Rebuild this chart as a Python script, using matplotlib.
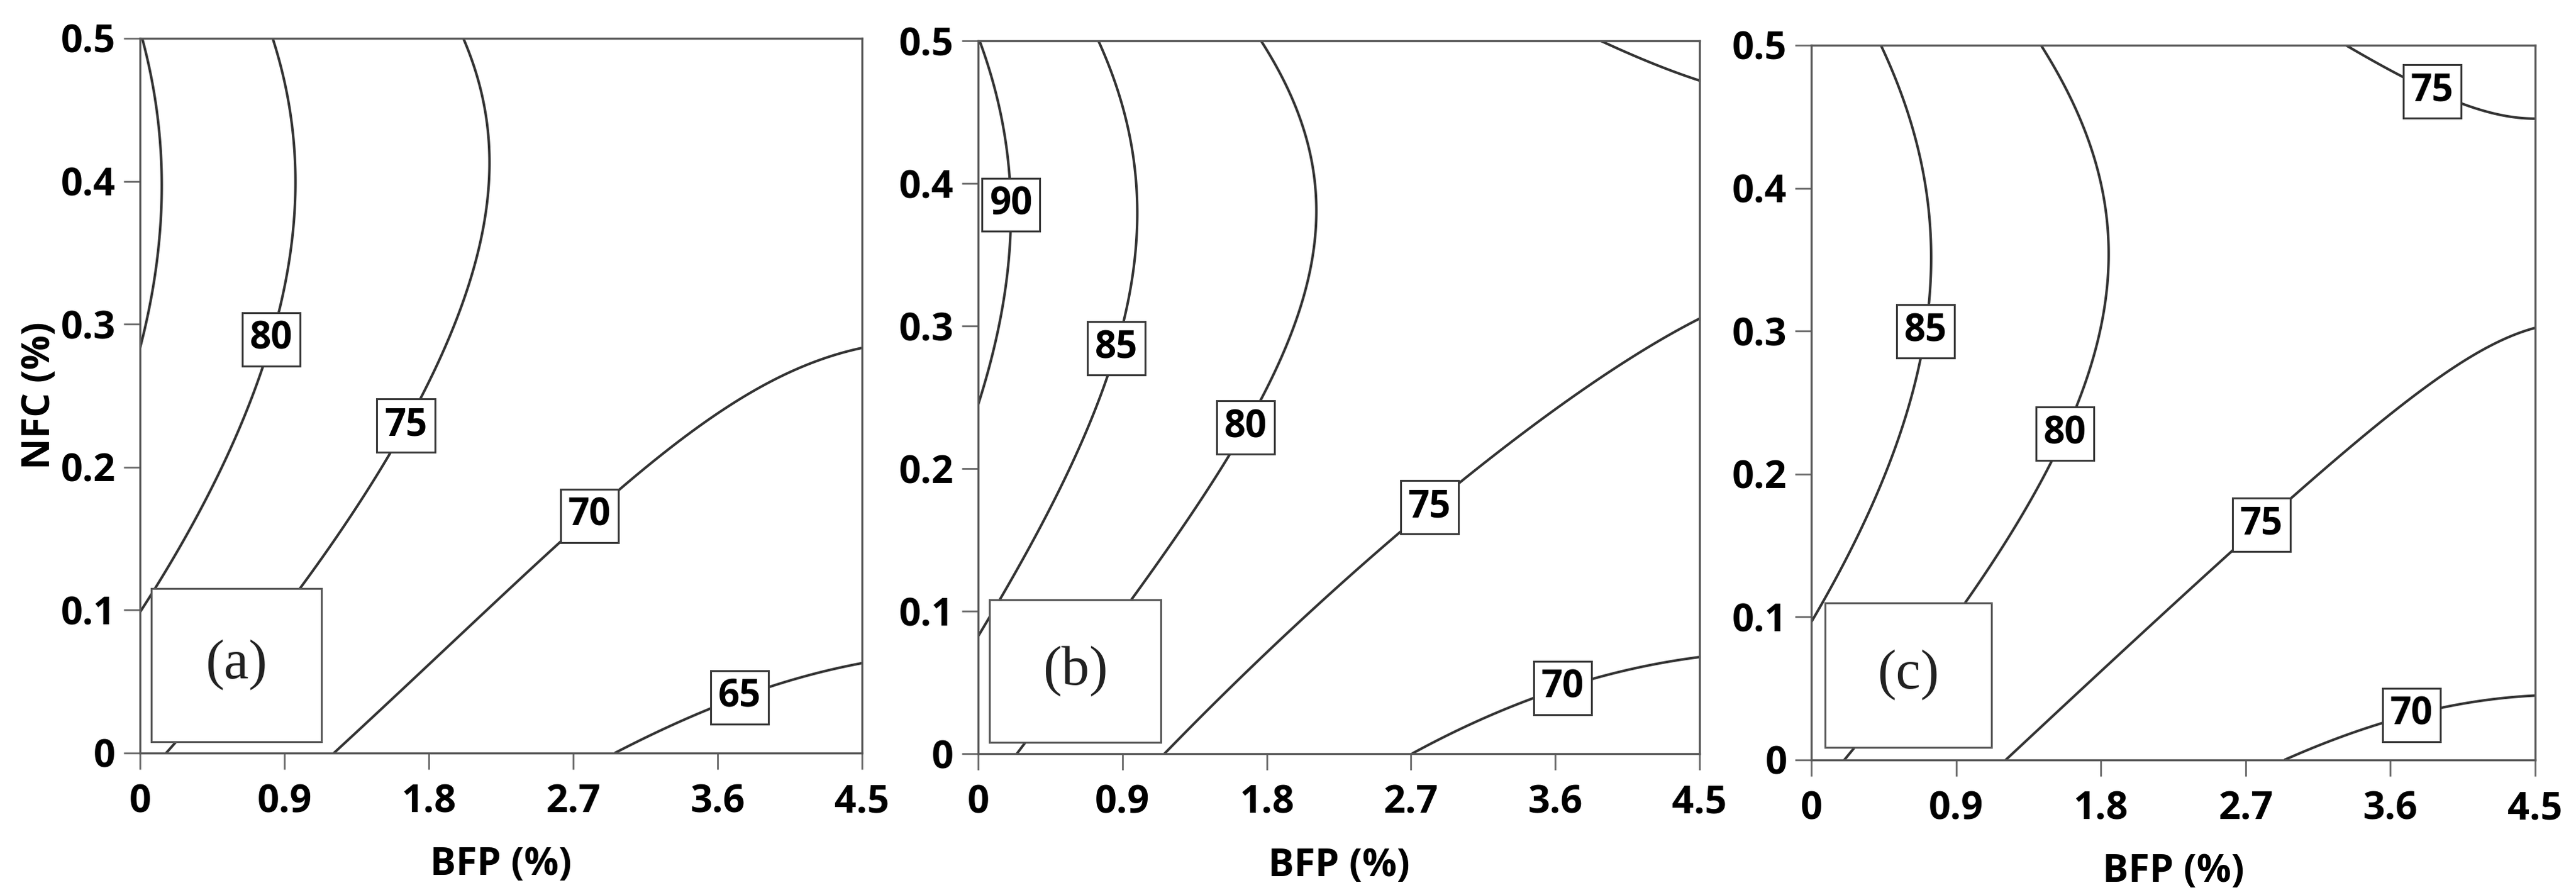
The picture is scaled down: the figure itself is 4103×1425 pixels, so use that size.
import numpy as np
import matplotlib
matplotlib.use("Agg")
import matplotlib.pyplot as plt
from matplotlib.patches import Rectangle

plt.rcParams['font.family'] = ['Open Sans', 'DejaVu Sans']
plt.rcParams['font.weight'] = 'bold'

# ---- data: response-surface model coefficients ----
# terms: 1, x, y, x*y, x^2, y^2, x^2*y, x*y^2, x^3, y^3   (x = BFP %, y = NFC %)
coef_a = [75.936, -5.881, 45.233, -6.014, 0.845, -37.410, 0.454, 7.456, -0.036, -32.836]
coef_b = [81.605, -6.909, 43.467, -3.855, 1.120, -22.528, 0.116, 4.904, -0.056, -61.095]
coef_c = [81.237, -6.221, 43.671, -3.653, 0.919, -45.368, 0.175, 5.006, -0.035, -31.815]

levels_a = [65, 70, 75, 80, 85]
levels_b = [70, 75, 80, 85, 90]
levels_c = [70, 75, 80, 85]

panel_tags = ['(a)', '(b)', '(c)']
x_ticks = [0, 0.9, 1.8, 2.7, 3.6, 4.5]
x_ticklabels = ['0', '0.9', '1.8', '2.7', '3.6', '4.5']
y_ticks = [0, 0.1, 0.2, 0.3, 0.4, 0.5]
y_ticklabels = ['0', '0.1', '0.2', '0.3', '0.4', '0.5']
x_label = 'BFP (%)'
y_label = 'NFC (%)'

# ---- layout / style ----
label_pos_a = [(0.80, 0.29), (1.64, 0.23), (2.77, 0.17), (3.70, 0.05)]
label_pos_b = [(0.20, 0.385), (0.84, 0.285), (1.65, 0.23), (2.80, 0.175), (3.62, 0.055)]
label_pos_c = [(0.69, 0.30), (1.54, 0.23), (2.77, 0.168), (3.88, 0.473), (3.71, 0.04)]

axes_pos = [[0.05435, 0.15860, 0.28028, 0.79860],
            [0.37972, 0.15789, 0.28004, 0.79649],
            [0.70315, 0.15088, 0.28101, 0.79860]]
tag_box = [(0.07, 0.008, 1.06, 0.107), (0.07, 0.008, 1.07, 0.100), (0.087, 0.009, 1.033, 0.101)]

LINE = '#333333'
SPINE = '#585858'


def model(coef, x, y):
    terms = [np.ones_like(x), x, y, x * y, x ** 2, y ** 2,
             x ** 2 * y, x * y ** 2, x ** 3, y ** 3]
    return sum(c * t for c, t in zip(coef, terms))


fig = plt.figure(figsize=(41.03, 14.25), dpi=100)
gx = np.linspace(0, 4.5, 500)
gy = np.linspace(0, 0.5, 500)
GX, GY = np.meshgrid(gx, gy)

panels = [(coef_a, levels_a, label_pos_a), (coef_b, levels_b, label_pos_b),
          (coef_c, levels_c, label_pos_c)]

for i, (coef, levels, lpos) in enumerate(panels):
    ax = fig.add_axes(axes_pos[i])
    Z = model(coef, GX, GY)
    cs = ax.contour(GX, GY, Z, levels=levels, colors=LINE, linewidths=2.9)
    texts = ax.clabel(cs, manual=lpos, inline=False, fontsize=43, fmt='%d')
    for t in texts:
        t.set_rotation(0)
        t.set_fontweight('bold')
        t.set_color('black')
        t.set_zorder(6)
        t.set_bbox(dict(boxstyle='square,pad=0.2', facecolor='white',
                        edgecolor='#3a3a3a', linewidth=2.2))

    bx, by, bw, bh = tag_box[i]
    ax.add_patch(Rectangle((bx, by), bw, bh, facecolor='white', edgecolor=SPINE,
                           linewidth=2.2, zorder=5))
    ax.text(bx + bw / 2, by + bh / 2, panel_tags[i], ha='center', va='center',
            fontsize=64, fontweight='normal', family=['Liberation Serif'],
            color='#222222', zorder=6)

    ax.set_xlim(0, 4.5)
    ax.set_ylim(0, 0.5)
    ax.set_xticks(x_ticks, x_ticklabels)
    ax.set_yticks(y_ticks, y_ticklabels)
    ax.tick_params(axis='both', direction='out', length=19, width=2, color='#6a6a6a',
                   labelsize=44, labelcolor='black')
    ax.tick_params(axis='x', pad=16)
    ax.tick_params(axis='y', pad=9)
    for sp in ax.spines.values():
        sp.set_linewidth(2.4)
        sp.set_color(SPINE)
    ax.set_xlabel(x_label, fontsize=44, fontweight='bold', labelpad=28)
    if i == 0:
        ax.set_ylabel(y_label, fontsize=44, fontweight='bold', labelpad=2)

fig.savefig('out.png', dpi=100, facecolor='white')
